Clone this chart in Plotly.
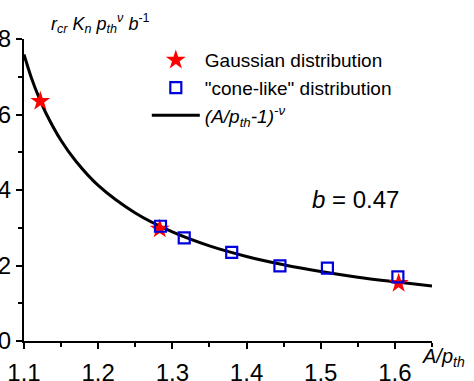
import plotly.graph_objects as go

# Data
gauss_x = [1.122, 1.283, 1.605]
gauss_y = [6.35, 2.97, 1.53]

cone_x = [1.284, 1.316, 1.380, 1.445, 1.509, 1.604]
cone_y = [3.04, 2.73, 2.35, 1.99, 1.93, 1.70]

curve_x = [1.10, 1.11, 1.12, 1.13, 1.15, 1.17, 1.20, 1.25, 1.30, 1.35, 1.40, 1.45, 1.50, 1.55, 1.60, 1.65]
curve_y = [7.59, 6.97, 6.46, 6.02, 5.31, 4.76, 4.12, 3.39, 2.89, 2.52, 2.24, 2.02, 1.84, 1.69, 1.57, 1.46]

x_ticks = [1.1, 1.2, 1.3, 1.4, 1.5, 1.6]
y_ticks = [0, 2, 4, 6, 8]

FONT = "Liberation Sans, Arial, sans-serif"

fig = go.Figure()
fig.add_trace(go.Scatter(x=curve_x, y=curve_y, mode="lines", line=dict(color="black", width=3, shape="spline"),
                         name="<i>(A/p<sub>th</sub>-1)<sup>-ν</sup></i>", legendrank=3))
fig.add_trace(go.Scatter(x=gauss_x, y=gauss_y, mode="markers",
                         marker=dict(symbol="star", size=15, color="red", line=dict(width=0)),
                         name="Gaussian distribution", legendrank=1))
fig.add_trace(go.Scatter(x=cone_x, y=cone_y, mode="markers",
                         marker=dict(symbol="square-open", size=11, color="#0000dd", line=dict(width=2.2, color="#0000dd")),
                         name="\"cone-like\" distribution", legendrank=2))

axis_common = dict(showline=True, linecolor="black", linewidth=2, showgrid=False, zeroline=False,
                   tickcolor="black", tickwidth=1.5, ticklen=6, automargin=False,
                   tickfont=dict(family=FONT, size=24, color="black"))

fig.update_layout(
    width=474, height=381,
    margin=dict(l=24, r=42, t=39, b=40, autoexpand=False),
    paper_bgcolor="white", plot_bgcolor="white",
    font=dict(family=FONT, color="black"),
    xaxis=dict(range=[1.1, 1.65], tickvals=x_ticks, ticktext=[str(v) for v in x_ticks], ticks="outside",
               ticklabelstandoff=3,
               minor=dict(dtick=0.05, tick0=1.1, ticks="outside", ticklen=4, tickcolor="black", tickwidth=1.5),
               **axis_common),
    yaxis=dict(range=[0, 8], tickvals=y_ticks, ticktext=[str(v) for v in y_ticks], ticks="outside",
               minor=dict(dtick=1, tick0=0, ticks="outside", ticklen=4, tickcolor="black", tickwidth=1.5),
               **axis_common),
    xaxis2=dict(overlaying="x", side="top", anchor="y", range=[1.1, 1.65], showline=True, linecolor="black",
                linewidth=2, showgrid=False, zeroline=False, ticks="inside", ticklen=5, tickwidth=1.5,
                tickcolor="black", dtick=0.05, tick0=1.1, showticklabels=False, automargin=False),
    yaxis2=dict(overlaying="y", side="right", anchor="x", range=[0, 8], showline=True, linecolor="black",
                linewidth=2, showgrid=False, zeroline=False, ticks="inside", ticklen=4, tickwidth=1.5,
                tickcolor="black", dtick=1, tick0=0, showticklabels=False, automargin=False),
    legend=dict(x=0.301, y=0.993, xanchor="left", yanchor="top", bgcolor="rgba(0,0,0,0)",
                font=dict(family=FONT, size=19, color="black"), tracegroupgap=0, itemwidth=48),
    showlegend=True,
)

fig.add_annotation(x=1.1, y=8, xref="x", yref="y", xanchor="left", yanchor="bottom", yshift=1, xshift=25,
                   align="left",
                   text="<i>r</i><sub><i>cr</i></sub> <i>K</i><sub><i>n</i></sub> <i>p</i><sub><i>th</i></sub><sup><i>ν</i></sup> <i>b</i><sup>-1</sup>",
                   showarrow=False, font=dict(family=FONT, size=18, color="black"))
fig.add_annotation(x=1.64, y=0, xref="x", yref="y", xanchor="left", yanchor="top", yshift=-2, xshift=-5,
                   align="left",
                   text="<i>A/p</i><sub><i>th</i></sub>",
                   showarrow=False, font=dict(family=FONT, size=20, color="black"))
fig.add_annotation(x=1.547, y=3.76, xref="x", yref="y", text="<i>b</i> = 0.47", showarrow=False,
                   font=dict(family=FONT, size=24, color="black"))

fig.write_html("out.html", config={"displayModeBar": False},
               post_script="document.body.style.margin='0px';")
